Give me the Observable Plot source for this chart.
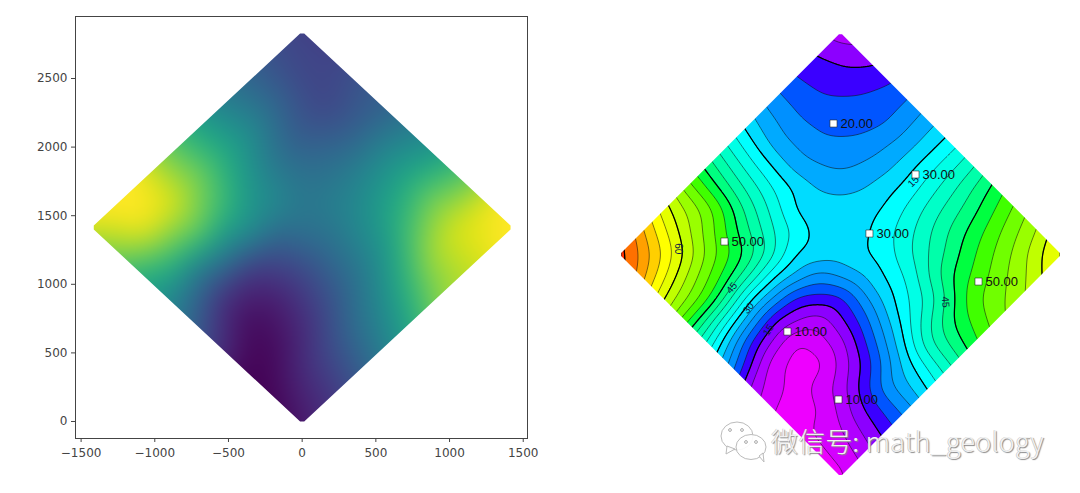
<!DOCTYPE html>
<html>
<head>
<meta charset="utf-8">
<script src="https://cdn.jsdelivr.net/npm/d3@7"></script>
<script src="https://cdn.jsdelivr.net/npm/@observablehq/plot@0.6"></script>
<style>
html,body{margin:0;padding:0;background:#fff;width:1080px;height:493px;overflow:hidden}
#root{position:relative;width:1080px;height:493px}
#root>svg{position:absolute;top:0}
#wm{position:absolute;left:771px;top:421px;font:300 27px "Noto Sans CJK SC","Noto Sans";color:rgba(255,255,255,.85);text-shadow:1px 1px 1px #888,-.5px -.5px .5px #bbb;white-space:nowrap;letter-spacing:.2px}
</style>
</head>
<body>
<div id="root"></div>
<script>
// right panel: contoured field, lattice 200 apart along the sides of the square
const row0  = [5,10,16,22.5,30.5,39,47,52.3,55.6,59,64];
const row1  = [5,8.5,14.7,22.5,28.5,38.3,44.7,49.9,52,55,57.5];
const row2  = [5,5.5,10.5,15,23.4,32,36.9,44.8,47.5,50,52];
const row3  = [5.5,4.5,4.5,10.5,19,28,33.3,39,42.5,44,46];
const row4  = [10.7,6.5,5.2,9.7,16.8,26.8,31.4,34.8,37,38,38.5];
const row5  = [23,17,15,17,22.5,28.5,29.2,30.3,31,31.7,31.5];
const row6  = [35,32,29.8,30.3,30,29,27.7,26.8,25.8,25.5,25.8];
const row7  = [49,48.7,45.5,43.2,36,29.5,26.8,23.2,21.8,20.5,20.8];
const row8  = [60,57,53.3,46.8,39.8,32.7,25.5,21.7,19.5,18.5,16.8];
const row9  = [70,65.5,58,52.5,42,33.7,25.8,21.5,18.5,16,13.4];
const row10 = [77,69.5,61.5,53,43.5,35,27.5,22,18,15,10];
const rightRows = [row0,row1,row2,row3,row4,row5,row6,row7,row8,row9,row10];

// left panel: colour position of the raster, lattice 250 apart along the sides
const heat0 = [.07,.15,.27,.42,.58,.78,.88,.96,1.05];
const heat1 = [.02,.12,.22,.35,.47,.65,.87,.95,.96];
const heat2 = [0,.03,.12,.24,.37,.5,.68,.8,.74];
const heat3 = [.12,.02,.08,.2,.34,.46,.55,.6,.55];
const heat4 = [.28,.13,.14,.25,.38,.42,.44,.46,.42];
const heat5 = [.45,.38,.44,.5,.47,.38,.34,.3,.3];
const heat6 = [.62,.72,.78,.68,.52,.38,.27,.21,.25];
const heat7 = [.82,.98,.95,.8,.62,.48,.33,.22,.2];
const heat8 = [.93,1.05,.98,.78,.6,.44,.33,.24,.2];
const leftRows = [heat0,heat1,heat2,heat3,heat4,heat5,heat6,heat7,heat8];

const bandLevels = [3,6,9,12,15,18,21,24,27,30,33,36,39,42,45,48,51,54,57,60,63,66,69,72,75];
const bandColors = ["#ee00ff","#d400ff","#b000ff","#8c00ff","#3a00ff","#0055ff","#0090ff","#00aaff","#00dcff","#00ffff","#00ffe6","#00ffc8","#00ffaa","#00ff80","#00ff40","#40ff00","#70ff00","#99ff00","#c0ff00","#e5ff00","#ffff00","#ffcf00","#ffa000","#ff7000","#ff3000"];
const thinLevels = bandLevels.slice(1);
const thickLevels = [15,30,45,60,75];

const wellX = [-45,482,186,-746,887,-341,-13];
const wellY = [2252,1926,1548,1497,1241,921,486];
const wellZ = ["20.00","30.00","30.00","50.00","50.00","10.00","10.00"];

const inlineText = ["60","45","30","15","45","15"];
const inlineX = [-1045,-698,-591,-463,674,469];
const inlineY = [1450,1200,1070,930,1110,1880];
const inlineAngle = [90,-50,-50,-58,85,-45];

const xTicks = [-1500,-1000,-500,0,500,1000,1500];
const yTicks = [0,500,1000,1500,2000,2500];

// lattice to table; one ring outside the square keeps the interpolation defined under the mask
function latticeTable(rows,step){
  const n=rows.length-1;
  const at=(u,v)=>{
    if(u<0) return 2*at(0,v)-at(1,v);
    if(u>n) return 2*at(n,v)-at(n-1,v);
    if(v<0) return 2*at(u,0)-at(u,1);
    if(v>n) return 2*at(u,n)-at(u,n-1);
    return rows[v][u];
  };
  const out=[];
  for(let v=-1;v<=n+1;v++)for(let u=-1;u<=n+1;u++)
    out.push({x:(u-v)*step/Math.SQRT2,y:(u+v)*step/Math.SQRT2,z:at(u,v)});
  return out;
}
const rightTable=latticeTable(rightRows,200);
const leftTable=latticeTable(leftRows,250);

const cy = 1414;
function maskRing(extent,chamfer,xd,yd,pad){
  const [a,b]=[xd[0]-pad,xd[1]+pad],[c,d]=[yd[0]-pad,yd[1]+pad];
  const E=extent,k=chamfer,T=cy+E-k;
  return [
    [a,d],[0,d],[0,T],
    [-k,T],[-E+k,cy+k],[-E+k,cy-k],[-k,cy-E+k],[k,cy-E+k],[E-k,cy-k],[E-k,cy+k],[k,T],
    [0,T],[0,d],[b,d],[b,c],[a,c],[a,d]
  ].map(([x,y])=>({x,y}));
}

const root=document.getElementById("root");
const leftX=[-1538,1529], leftY=[-124,2952];
const left=Plot.plot({
  width:540,height:493,
  marginLeft:75,marginRight:13,marginTop:16,marginBottom:55,
  x:{domain:leftX,axis:null},
  y:{domain:leftY,axis:null},
  color:{scheme:"viridis",domain:[0,1],clamp:true},
  marks:[
    Plot.raster(leftTable,{x:"x",y:"y",fill:"z",interpolate:"barycentric",blur:12,pixelSize:1}),
    Plot.line(maskRing(1428,14,leftX,leftY,0),{x:"x",y:"y",fill:"white",stroke:"none",curve:"linear"}),
    Plot.frame({stroke:"#444"}),
    Plot.axisX({ticks:xTicks,tickSize:4,tickPadding:6,label:null,fontSize:12,color:"#444",tickFormat:d=>String(d).replace("-","\u2212"),fontFamily:"DejaVu Sans",anchor:"bottom"}),
    Plot.axisY({ticks:yTicks,tickSize:4,tickPadding:4,label:null,fontSize:12,color:"#444",tickFormat:d=>String(d),fontFamily:"DejaVu Sans",anchor:"left"})
  ]
});
left.style.left="0px";
root.appendChild(left);

const rightX=[-1414,1414], rightY=[0,2828];
const common={x:"x",y:"y",interpolate:"barycentric",blur:8,pixelSize:1};
const right=Plot.plot({
  width:540,height:493,
  marginLeft:80,marginRight:20,marginTop:33,marginBottom:18,
  x:{domain:rightX,axis:null},
  y:{domain:rightY,axis:null},
  color:{type:"threshold",domain:bandLevels.slice(1),range:bandColors},
  marks:[
    Plot.contour(rightTable,{...common,fill:"z",thresholds:bandLevels,stroke:"none"}),
    Plot.contour(rightTable,{...common,value:"z",thresholds:thinLevels,fill:"none",stroke:"#111",strokeWidth:0.55}),
    Plot.contour(rightTable,{...common,value:"z",thresholds:thickLevels,fill:"none",stroke:"#000",strokeWidth:1.25}),
    Plot.line(maskRing(1420,10,rightX,rightY,40),{x:"x",y:"y",fill:"white",stroke:"none",curve:"linear"}),
    Plot.text(d3.range(inlineText.length),{x:i=>inlineX[i],y:i=>inlineY[i],text:i=>inlineText[i],rotate:i=>inlineAngle[i],fontSize:10,fill:"#124",fontFamily:"Liberation Sans"}),
    Plot.dot(d3.range(wellX.length),{x:i=>wellX[i],y:i=>wellY[i],symbol:"square",r:4,fill:"white",stroke:"#222",strokeWidth:.6}),
    Plot.text(d3.range(wellX.length),{x:i=>wellX[i],y:i=>wellY[i],text:i=>wellZ[i],dx:7,textAnchor:"start",fontSize:13,fill:"#111",fontFamily:"Liberation Sans"})
  ]
});
right.style.left="540px";
root.appendChild(right);

const wm=document.createElement("div");
wm.id="wm";wm.textContent="微信号: math_geology";
root.appendChild(wm);
const icon=d3.create("svg").attr("width",50).attr("height",44).style("left","719px").style("top","420px");
const g=icon.append("g").attr("fill","rgba(255,255,255,.9)").attr("stroke","#bbb").attr("stroke-width",1);
g.append("ellipse").attr("cx",18).attr("cy",16).attr("rx",16).attr("ry",14);
g.append("path").attr("d","M8 26 L7 34 L16 29Z");
g.append("ellipse").attr("cx",32).attr("cy",27).attr("rx",15).attr("ry",12.5);
g.append("path").attr("d","M40 36 L45 42 L44 33Z");
const e=icon.append("g").attr("fill","none").attr("stroke","#aaa");
[[11,10],[23,10],[27,22],[37,22]].forEach(([x,y])=>e.append("circle").attr("cx",x).attr("cy",y).attr("r",1.4));
root.appendChild(icon.node());
</script>
</body>
</html>
